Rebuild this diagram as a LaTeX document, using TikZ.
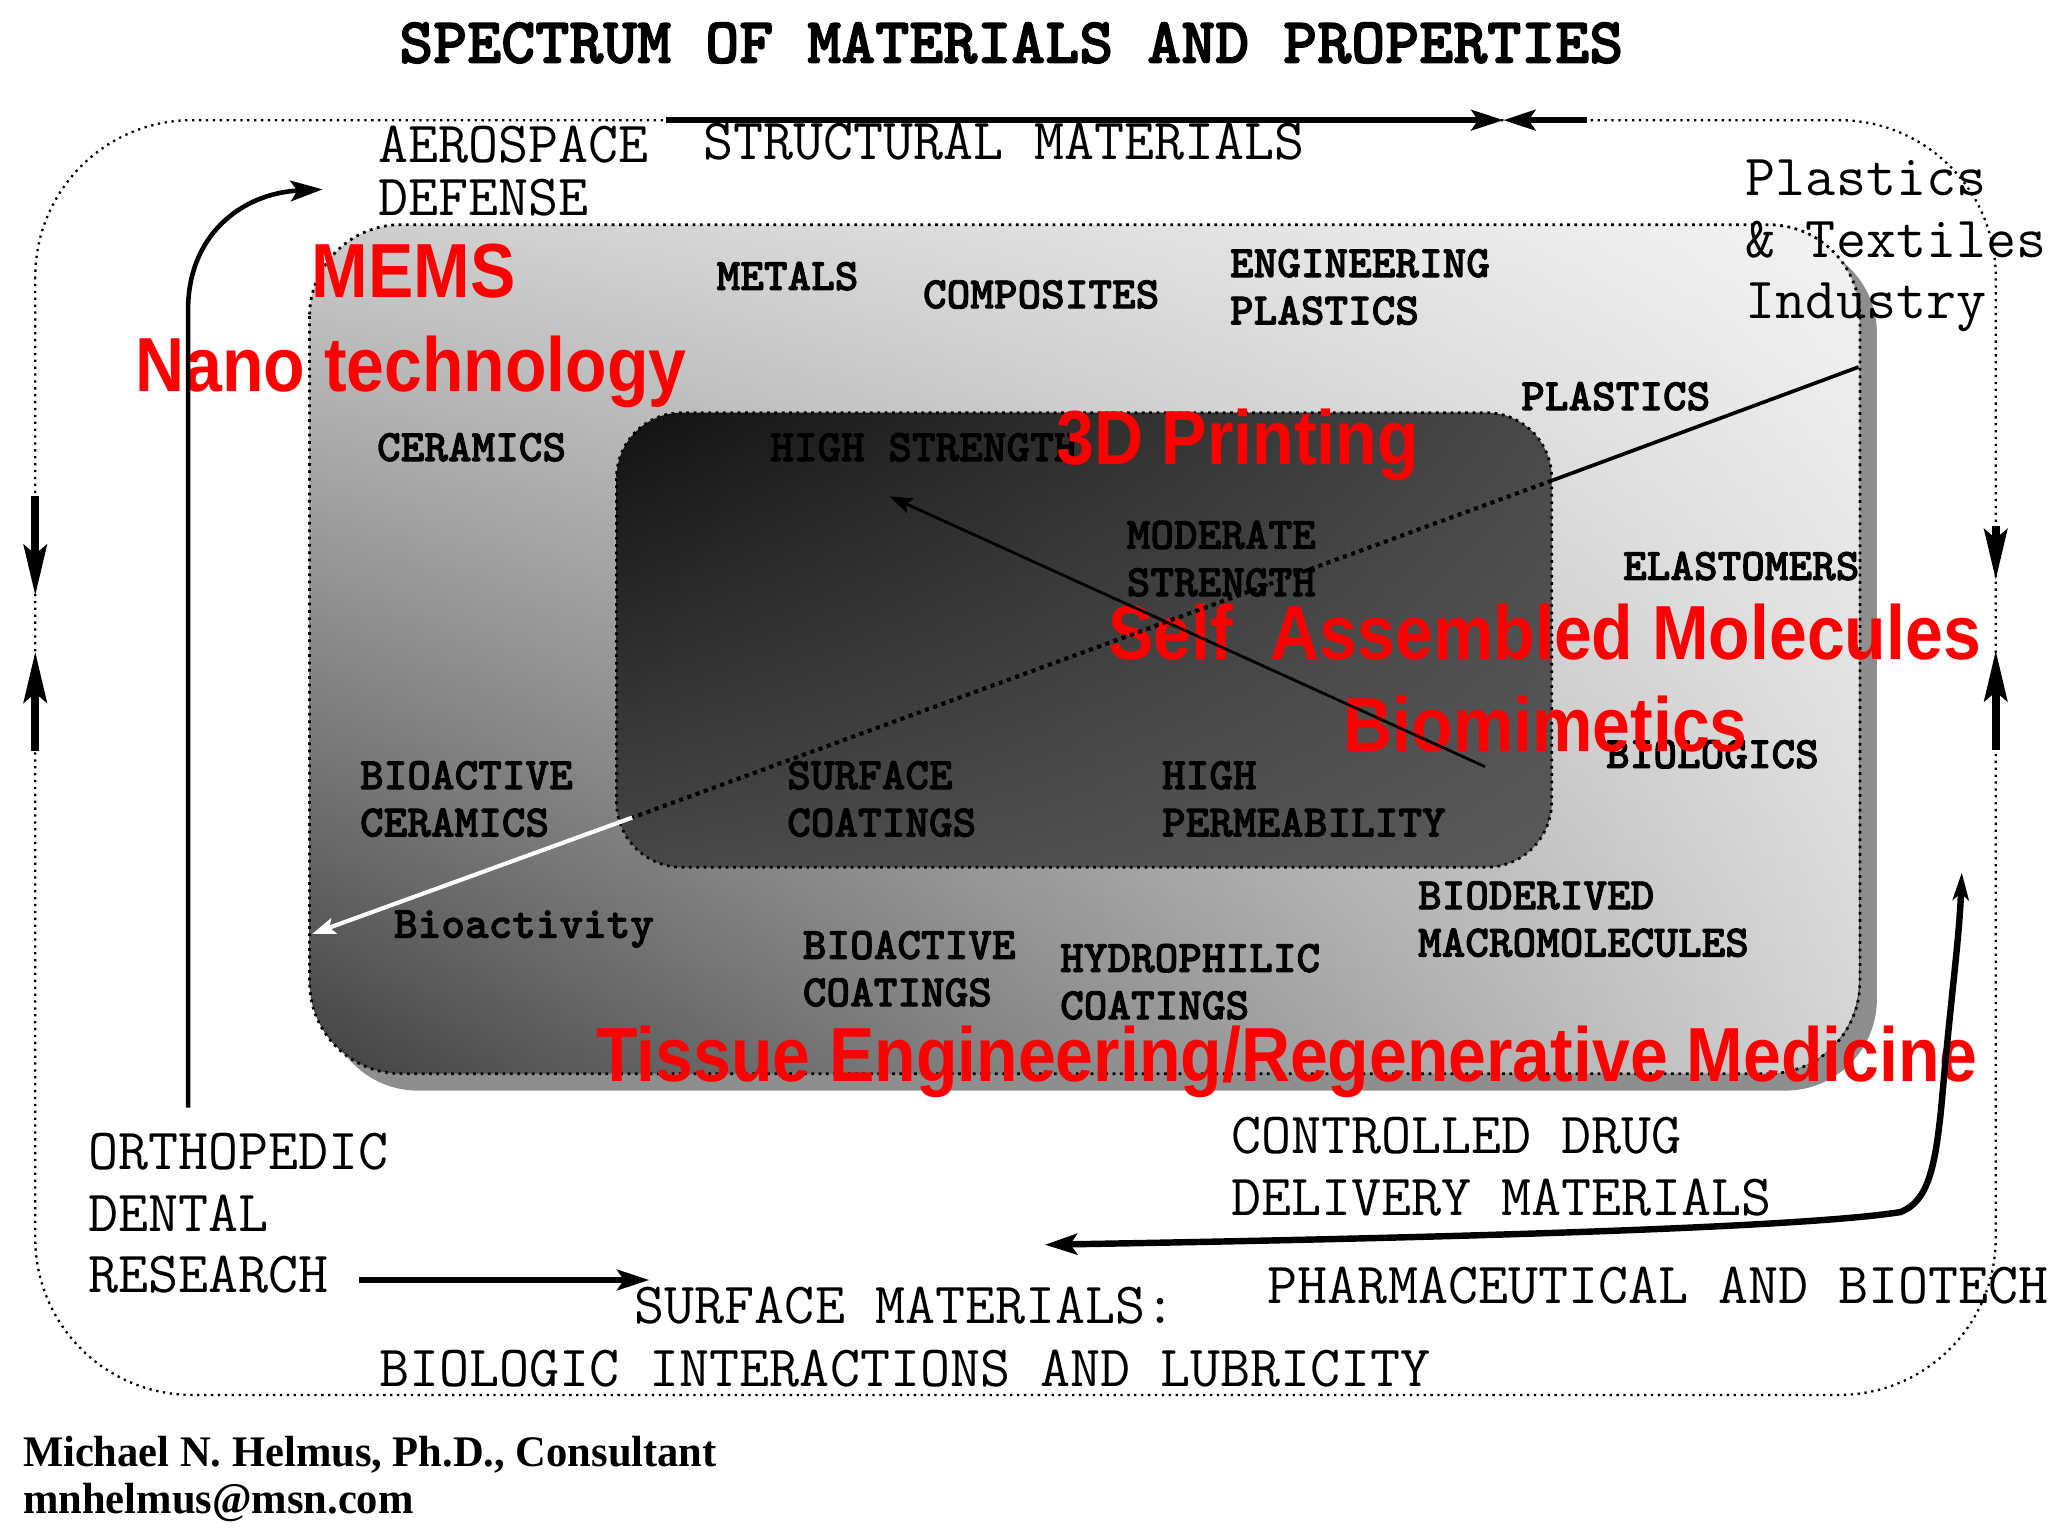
\documentclass[tikz,border=0pt]{standalone}
\usepackage{fontspec}
\usetikzlibrary{arrows.meta, fadings}

\newfontfamily\hotfont{Liberation Sans}[FakeStretch=0.886]
\newfontfamily\signfont{Liberation Serif}[FakeStretch=0.975]
\newfontfamily\matfont{lmmonolt10-bold.otf}[FakeBold=2]

\definecolor{boxtop}{HTML}{CDCDCD}
\definecolor{boxmid}{HTML}{969696}
\definecolor{boxbottom}{HTML}{414141}
\definecolor{boxshadow}{HTML}{8E8E8E}
\definecolor{coretop}{HTML}{121212}
\definecolor{corebottom}{HTML}{484848}
\definecolor{coreglow}{HTML}{626262}

\tikzfading[name=fade in east, left color=transparent!100, middle color=transparent!70, right color=transparent!0]

\tikzset{
    heading/.style={font=\matfont\fontsize{14.1}{15}\selectfont, inner sep=0pt, anchor=base west},
    field/.style={font=\ttfamily\fontsize{12.7}{13.4}\selectfont, inner sep=0pt, align=left},
    material/.style={font=\matfont\fontsize{9.8}{10.3}\selectfont, inner sep=0pt, align=left},
    hot/.style={font=\hotfont\bfseries\fontsize{16.7}{18}\selectfont, text=red, inner sep=0pt, anchor=base west},
    bigarrow/.style={line width=1.7pt, -{Stealth[length=11pt, width=5pt, inset=2pt]}},
    midarrow/.style={line width=1.2pt, -{Stealth[length=7pt, width=4.5pt, inset=1.5pt]}},
    thinarrow/.style={line width=0.6pt, -{Stealth[length=5pt, width=3.5pt, inset=1pt]}},
}

\begin{document}
\begin{tikzpicture}[x=0.01cm, y=-0.01cm]
    \useasboundingbox (0,0) rectangle (1568,1176);

    % outer frame
    \draw[densely dotted, line width=0.5pt, rounded corners=1.2cm] (27,92) rectangle (1528,1068);

    % materials box
    \fill[boxshadow, rounded corners=0.7cm] (250,185) rectangle (1437,835);
    \shade[rounded corners=0.7cm, top color=boxtop, middle color=boxmid, bottom color=boxbottom] (237,172) rectangle (1424,822);
    \fill[white, rounded corners=0.7cm, path fading=fade in east, fill opacity=0.78] (237,172) rectangle (1424,822);
    \draw[densely dotted, line width=0.6pt, rounded corners=0.7cm] (237,172) rectangle (1424,822);

    % properties box
    \shade[rounded corners=0.5cm, top color=coretop, bottom color=corebottom] (472,316) rectangle (1188,664);
    \fill[coreglow, rounded corners=0.5cm, path fading=fade in east, fill opacity=0.7] (472,316) rectangle (1188,664);
    \draw[densely dotted, line width=0.6pt, rounded corners=0.5cm] (472,316) rectangle (1188,664);

    % field labels
    \node[heading] (title) at (305,48) {SPECTRUM OF MATERIALS AND PROPERTIES};
    \node[field, anchor=north west, font=\ttfamily\fontsize{12.7}{11.4}\selectfont] (aero) at (289,96) {AEROSPACE\\DEFENSE};
    \node[field, anchor=base west] (struct) at (538,122) {STRUCTURAL MATERIALS};
    \node[field, anchor=north west] (textile) at (1336,122) {Plastics\\\& Textiles\\Industry};
    \node[field, anchor=north west] (ortho) at (67,867) {ORTHOPEDIC\\DENTAL\\RESEARCH};
    \node[field, anchor=north west] (drug) at (942,855) {CONTROLLED DRUG\\DELIVERY MATERIALS};
    \node[field, anchor=north, align=center, font=\ttfamily\fontsize{12.7}{13.7}\selectfont] (surf) at (693,985) {SURFACE MATERIALS:\\BIOLOGIC INTERACTIONS AND LUBRICITY};
    \node[field, anchor=base west] (pharma) at (970,998) {PHARMACEUTICAL AND BIOTECH};

    % materials and properties
    \node[material, anchor=base west] (metals) at (548,222) {METALS};
    \node[material, anchor=base west] (compo) at (706,236) {COMPOSITES};
    \node[material, anchor=north west] (engpl) at (941,190) {ENGINEERING\\PLASTICS};
    \node[material, anchor=base west] (plast) at (1164,314) {PLASTICS};
    \node[material, anchor=base west] (ceram) at (288,353) {CERAMICS};
    \node[material, anchor=base west] (hstr) at (589,353) {HIGH STRENGTH};
    \node[material, anchor=north west] (modstr) at (862,398) {MODERATE\\STRENGTH};
    \node[material, anchor=base west] (elast) at (1242,444) {ELASTOMERS};
    \node[material, anchor=north west] (bioceram) at (275,582) {BIOACTIVE\\CERAMICS};
    \node[material, anchor=north west] (surfcoat) at (602,582) {SURFACE\\COATINGS};
    \node[material, anchor=north west] (hperm) at (889,582) {HIGH\\PERMEABILITY};
    \node[material, anchor=base west] (biolog) at (1229,588) {BIOLOGICS};
    \node[material, anchor=north west] (bioder) at (1085,674) {BIODERIVED\\MACROMOLECULES};
    \node[material, anchor=base west] (bioact) at (301,718) {Bioactivity};
    \node[material, anchor=north west] (biocoat) at (614,712) {BIOACTIVE\\COATINGS};
    \node[material, anchor=north west] (hydro) at (811,722) {HYDROPHILIC\\COATINGS};

    % new technologies
    \node[hot] (mems) at (238,228) {MEMS};
    \node[hot] (nano) at (103,300) {Nano technology};
    \node[hot] (print) at (808,356) {3D Printing};
    \node[hot] (selfas) at (848,505) {Self\ \ Assembled Molecules};
    \node[hot] (biomim) at (1028,575) {Biomimetics};
    \node[hot] (tissue) at (456,828) {Tissue Engineering/Regenerative Medicine};

    % diagonal lines
    \coordinate (dA) at (1423,281);
    \coordinate (dB) at (1188,368);
    \coordinate (dC) at (484,626);
    \coordinate (dD) at (239,715);
    \draw[line width=0.8pt] (dA) -- (dB);
    \draw[densely dotted, line width=0.9pt] (dB) -- (dC);
    \draw[white, thinarrow, line width=0.9pt] (dC) -- (dD);
    \coordinate (eA) at (1137,587);
    \coordinate (eB) at (681,380);
    \draw[thinarrow] (eA) -- (eB);

    % arrows on the frame
    \coordinate (topL) at (510,92);
    \coordinate (topM) at (1151,92);
    \coordinate (topR) at (1215,92);
    \draw[midarrow] (topL) -- (topM);
    \draw[midarrow] (topR) -- (topM);
    \coordinate (lA) at (27,380);
    \coordinate (lB) at (27,456);
    \coordinate (lC) at (27,575);
    \coordinate (lD) at (27,499);
    \draw[bigarrow] (lA) -- (lB);
    \draw[bigarrow] (lC) -- (lD);
    \coordinate (rA) at (1528,403);
    \coordinate (rB) at (1528,444);
    \coordinate (rC) at (1528,574);
    \coordinate (rD) at (1528,498);
    \draw[bigarrow] (rA) -- (rB);
    \draw[bigarrow] (rC) -- (rD);

    % application arrows
    \coordinate (oA) at (144,848);
    \coordinate (oB) at (247,145);
    \draw[midarrow, line width=1pt] (oA) -- (144,237) .. controls (144,180) and (185,148) .. (oB);
    \coordinate (sA) at (275,980);
    \coordinate (sB) at (497,980);
    \draw[midarrow] (sA) -- (sB);
    \coordinate (pA) at (800,953);
    \coordinate (pB) at (1502,668);
    \draw[midarrow, line width=1.4pt, {Stealth[length=7pt, width=4.5pt, inset=1.5pt]}-{Stealth[length=6pt, width=3.5pt, inset=1.5pt]}] (pA) .. controls (1100,948) and (1380,940) .. (1455,928) .. controls (1476,920) and (1482,895) .. (1487,840) .. controls (1494,760) and (1500,720) .. (pB);

    % author
    \node[font=\signfont\bfseries\fontsize{9.5}{10.2}\selectfont, inner sep=0pt, align=left, anchor=north west] (author) at (17,1099) {Michael N. Helmus, Ph.D., Consultant\\mnhelmus@msn.com};
\end{tikzpicture}
\end{document}
